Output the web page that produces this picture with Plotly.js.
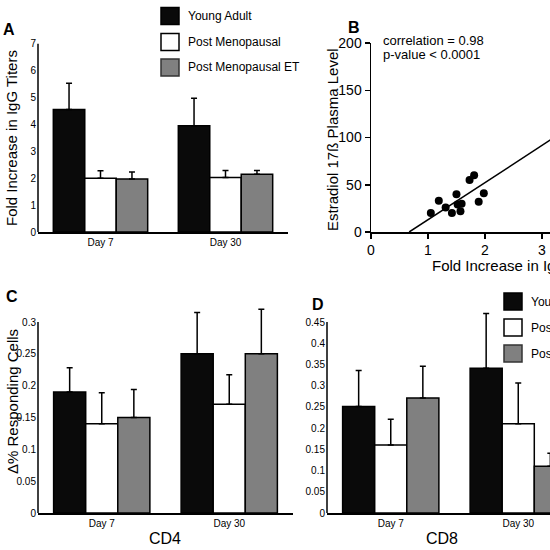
<!DOCTYPE html>
<html>
<head>
<meta charset="utf-8">
<script src="https://cdn.plot.ly/plotly-3.0.1.min.js"></script>
<style>
html,body{margin:0;padding:0;overflow:hidden;background:#fff;width:550px;height:550px;}
#chart{width:700px;height:550px;}
</style>
</head>
<body>
<div id="chart"></div>
<script>
// ---------- data ----------
var groups = ['Young Adult', 'Post Menopausal', 'Post Menopausal ET'];
var days = ['Day 7', 'Day 30'];

// Panel A: fold increase in IgG titers
var igYoung = [4.55, 3.95];
var igYoungErr = [0.97, 1.02];
var igPM = [2.0, 2.02];
var igPMErr = [0.27, 0.26];
var igPMET = [1.97, 2.14];
var igPMETErr = [0.26, 0.14];

// Panel B: correlation scatter
var foldX = [1.05, 1.19, 1.31, 1.42, 1.50, 1.52, 1.57, 1.59, 1.73, 1.81, 1.89, 1.98];
var estradiolY = [20, 33, 26, 20, 40, 29, 22, 30, 55, 60, 32, 41];
var fitX = [0.67, 5.2];
var fitY = [0, 178];
var corrText = 'correlation = 0.98';
var pText = 'p-value < 0.0001';

// Panel C: CD4
var cd4Young = [0.19, 0.25];
var cd4YoungErr = [0.038, 0.065];
var cd4PM = [0.14, 0.171];
var cd4PMErr = [0.049, 0.046];
var cd4PMET = [0.15, 0.25];
var cd4PMETErr = [0.044, 0.070];

// Panel D: CD8
var cd8Young = [0.251, 0.341];
var cd8YoungErr = [0.085, 0.129];
var cd8PM = [0.160, 0.210];
var cd8PMErr = [0.061, 0.096];
var cd8PMET = [0.271, 0.110];
var cd8PMETErr = [0.075, 0.031];

// ---------- helpers ----------
var W = 700, H = 550;
function px(x){ return x / W; }
function py(y){ return 1 - y / H; }
var FONT = 'Arial, "Liberation Sans", sans-serif';
var colors = ['#0a0a0a', '#ffffff', '#808080'];

function barTrace(vals, errs, idx, xa, ya){
  return {
    type: 'bar', x: days, y: vals, xaxis: xa, yaxis: ya,
    name: groups[idx], showlegend: false, cliponaxis: false,
    marker: {color: colors[idx], line: {color: '#000', width: 1.5}},
    error_y: {type: 'data', symmetric: false, array: errs,
              arrayminus: vals.map(function(){return 0;}),
              color: '#000', thickness: 1.5, width: 3}
  };
}

var traces = [
  barTrace(igYoung, igYoungErr, 0, 'x', 'y'),
  barTrace(igPM, igPMErr, 1, 'x', 'y'),
  barTrace(igPMET, igPMETErr, 2, 'x', 'y'),
  {type: 'scatter', mode: 'lines', x: fitX, y: fitY, xaxis: 'x2', yaxis: 'y2',
   line: {color: '#000', width: 1.5}, showlegend: false},
  {type: 'scatter', mode: 'markers', x: foldX, y: estradiolY, xaxis: 'x2', yaxis: 'y2',
   marker: {color: '#000', size: 8}, showlegend: false},
  barTrace(cd4Young, cd4YoungErr, 0, 'x3', 'y3'),
  barTrace(cd4PM, cd4PMErr, 1, 'x3', 'y3'),
  barTrace(cd4PMET, cd4PMETErr, 2, 'x3', 'y3'),
  barTrace(cd8Young, cd8YoungErr, 0, 'x4', 'y4'),
  barTrace(cd8PM, cd8PMErr, 1, 'x4', 'y4'),
  barTrace(cd8PMET, cd8PMETErr, 2, 'x4', 'y4')
];

function catAxis(d0, d1, anchor){
  return {domain: [px(d0), px(d1)], anchor: anchor, type: 'category',
          range: [-0.5, 1.5], showline: true, linecolor: '#000', linewidth: 1.5,
          ticks: '', showgrid: false, zeroline: false,
          tickfont: {family: FONT, size: 10, color: '#000'}, fixedrange: true};
}
// top/bottom: pixel rows of range ends; line drawn separately up to lineTop
function valAxis(top, bottom, range, dtick, anchor){
  return {domain: [py(bottom), py(top)], anchor: anchor, range: range, dtick: dtick,
          showline: false, ticks: '',
          showgrid: false, zeroline: false, ticklabelstandoff: 1,
          tickfont: {family: FONT, size: 10, color: '#000'}, fixedrange: true};
}

var layout = {
  width: W, height: H,
  margin: {l: 0, r: 0, t: 0, b: 0},
  paper_bgcolor: '#fff', plot_bgcolor: '#fff',
  barmode: 'group', bargap: 0.245, bargroupgap: 0,
  font: {family: FONT, color: '#000'},
  xaxis: catAxis(38, 288, 'y'),
  yaxis: valAxis(43.5, 232, [0, 7], 1, 'x'),
  xaxis2: {domain: [px(371), px(669)], anchor: 'y2', range: [0, 5.23], dtick: 1,
           showline: true, linecolor: '#000', linewidth: 1.5, ticks: 'outside',
           ticklen: 5, tickwidth: 1.5, tickcolor: '#000', showgrid: false, zeroline: false,
           tickfont: {family: FONT, size: 14, color: '#000'}},
  yaxis2: {domain: [py(232), py(43)], anchor: 'x2', range: [0, 200], dtick: 50,
           showline: true, linecolor: '#000', linewidth: 1.5, ticks: 'outside',
           ticklen: 5, tickwidth: 1.5, tickcolor: '#000', showgrid: false, zeroline: false,
           tickfont: {family: FONT, size: 14, color: '#000'}},
  xaxis3: catAxis(38, 293, 'y3'),
  yaxis3: valAxis(513 - 0.33 * (191 / 0.3), 513, [0, 0.33], 0.05, 'x3'),
  xaxis4: catAxis(327, 582, 'y4'),
  yaxis4: valAxis(513 - 0.49 * (191 / 0.45), 513, [0, 0.49], 0.05, 'x4'),
  shapes: [],
  annotations: []
};

// vertical axis lines for bar panels (end at top tick)
[['x', 'y', 7], ['x3', 'y3', 0.3], ['x4', 'y4', 0.45]].forEach(function(a){
  layout.shapes.push({type: 'line', xref: a[0] + ' domain', yref: a[1],
    x0: 0, x1: 0, y0: 0, y1: a[2], line: {color: '#000', width: 1.5}});
});

function ann(text, x, y, size, opts){
  var a = {text: text, x: px(x), y: py(y), xref: 'paper', yref: 'paper',
           showarrow: false, font: {family: FONT, size: size, color: '#000'},
           xanchor: 'center', yanchor: 'middle'};
  for (var k in opts) a[k] = opts[k];
  layout.annotations.push(a);
}

// panel letters
ann('<b>A</b>', 9, 29, 16);
ann('<b>B</b>', 354, 28, 16);
ann('<b>C</b>', 12, 296, 16);
ann('<b>D</b>', 318, 304, 16);

// axis titles
ann('Fold Increase in IgG Titers', 11, 138, 15, {textangle: -90});
ann('Estradiol 17ß Plasma Level', 333, 140, 15, {textangle: -90});
ann('Fold Increase in IgG Titers', 520, 265, 15);
ann('Δ% Responding Cells', 12, 402, 15, {textangle: -90});
ann('CD4', 165, 538, 16);
ann('CD8', 442, 538, 16);

// B stats
ann(corrText, 381, 40, 13, {xanchor: 'left'});
ann(pText, 381, 55, 13, {xanchor: 'left'});

// legends
function legend(x0, yCenters){
  for (var i = 0; i < groups.length; i++){
    var yc = yCenters[i];
    layout.shapes.push({type: 'rect', xref: 'paper', yref: 'paper',
      x0: px(x0), x1: px(x0 + 18), y0: py(yc + 8.5), y1: py(yc - 8.5),
      fillcolor: colors[i], line: {color: i === 2 ? '#333' : '#000', width: 1.5}});
    ann(groups[i], x0 + 25, yc, 12, {xanchor: 'left'});
  }
}
legend(161, [16, 42, 67.5]);
legend(504, [301.5, 327.5, 353.5]);

Plotly.newPlot('chart', traces, layout, {staticPlot: true, displayModeBar: false});
</script>
</body>
</html>
